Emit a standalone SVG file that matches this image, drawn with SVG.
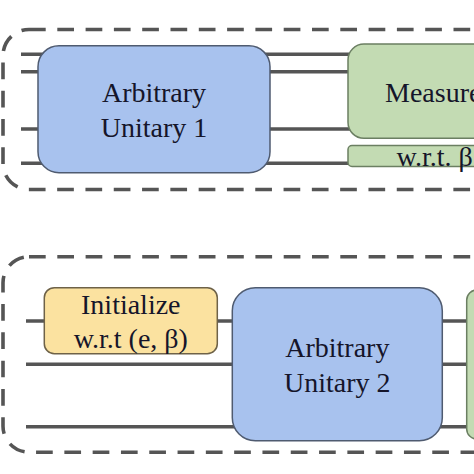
<svg xmlns="http://www.w3.org/2000/svg" width="474" height="474" viewBox="0 0 474 474">
  <style>
    .frame { fill: none; stroke: #555; stroke-width: 3.6; stroke-dasharray: 16.7 11.6; }
    .wire { stroke: #555; stroke-width: 3.6; fill: none; }
    .blue { fill: #a8c2ee; stroke: #4f5b70; stroke-width: 1.5; }
    .green { fill: #c3dbb3; stroke: #6b7f62; stroke-width: 1.5; }
    .yellow { fill: #fbe2a0; stroke: #6e6248; stroke-width: 1.5; }
    .lbl { font-family: "Liberation Serif", "Times New Roman", serif; font-size: 28px; fill: #15152a; text-anchor: middle; }
    .lbl-start { font-family: "Liberation Serif", "Times New Roman", serif; font-size: 28px; fill: #15152a; }
  </style>
  <rect width="474" height="474" fill="#ffffff"/>
  <g id="frames">
    <rect class="frame" x="3" y="29.5" width="560" height="160" rx="26"/>
    <rect class="frame" x="3" y="256.7" width="560" height="195.5" rx="26"/>
  </g>
  <g id="connectors">
    <line class="wire" x1="21" y1="54.3" x2="474" y2="54.3"/>
    <line class="wire" x1="21" y1="71.7" x2="474" y2="71.7"/>
    <line class="wire" x1="21" y1="129" x2="474" y2="129"/>
    <line class="wire" x1="21" y1="163.3" x2="474" y2="163.3"/>
    <line class="wire" x1="26" y1="321" x2="474" y2="321"/>
    <line class="wire" x1="26" y1="364.3" x2="474" y2="364.3"/>
    <line class="wire" x1="26" y1="426.7" x2="474" y2="426.7"/>
  </g>
  <g id="unitary1">
    <rect class="blue" x="38" y="45.7" width="232" height="127" rx="21"/>
    <text class="lbl" x="154" y="101.7">Arbitrary</text>
    <text class="lbl" x="154" y="136.7">Unitary 1</text>
  </g>
  <g id="measure1">
    <rect class="green" x="348" y="44" width="180" height="94.3" rx="16"/>
    <text class="lbl-start" x="385" y="101.7">Measure</text>
  </g>
  <g id="wrt-beta">
    <rect class="green" x="348" y="145.5" width="180" height="21" rx="4"/>
    <text class="lbl-start" x="396.5" y="165.5">w.r.t. β</text>
  </g>
  <g id="initialize">
    <rect class="yellow" x="44.3" y="287.7" width="173" height="66" rx="10"/>
    <text class="lbl" x="130.8" y="314">Initialize</text>
    <text class="lbl" x="130.8" y="348.3">w.r.t (e, β)</text>
  </g>
  <g id="unitary2">
    <rect class="blue" x="232.3" y="287.7" width="210" height="153" rx="23"/>
    <text class="lbl" x="337.3" y="356.7">Arbitrary</text>
    <text class="lbl" x="337.3" y="391.7">Unitary 2</text>
  </g>
  <g id="measure2">
    <rect class="green" x="466.7" y="290" width="60" height="149" rx="10"/>
  </g>
</svg>
